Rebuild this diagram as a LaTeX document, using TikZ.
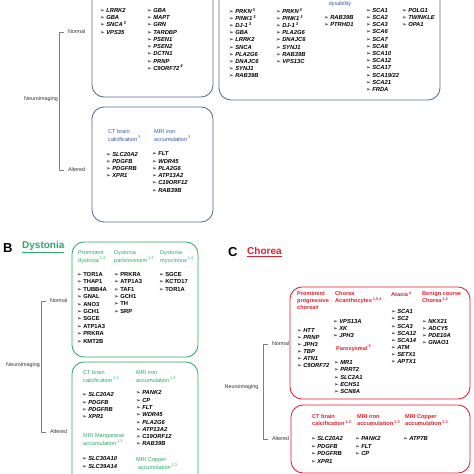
\documentclass[tikz,border=0pt]{standalone}
\usepackage{fontspec}
\setmainfont{Liberation Sans}
\newfontfamily\arrowfont{DejaVu Sans}
\usepackage{tikz}
\usetikzlibrary{positioning}

\definecolor{boxA}{RGB}{85,110,145}
\definecolor{textA}{RGB}{60,85,150}
\definecolor{dysgreen}{RGB}{45,170,105}
\definecolor{chored}{RGB}{225,30,45}

\newcommand{\genebul}{{\arrowfont\fontsize{5.6}{5.6}\selectfont ➢}\hspace{1.4pt}}
\newcommand{\gl}[1]{\genebul#1}

\tikzset{
  genes/.style={anchor=north west, inner sep=0pt, align=left,
    font=\fontsize{5.8}{#1}\selectfont\bfseries\itshape},
  genes/.default=7.25,
  genesup/.style={anchor=north west, inner sep=0pt, align=left,
    font=\fontsize{5.8}{#1}\selectfont\bfseries},
  genesup/.default=7.45,
  hdr/.style={anchor=north west, inner sep=0pt, align=left,
    font=\fontsize{5.6}{7.6}\selectfont},
  lbl/.style={inner sep=0pt, outer xsep=4pt, font=\fontsize{5.4}{6}\selectfont, text=black!80},
  neuro/.style={inner sep=1pt, fill=white, font=\fontsize{5.4}{6}\selectfont, text=black!80},
  tree/.style={draw=black!50, line width=0.6pt},
  panel/.style={inner sep=0pt, font=\fontsize{13}{13}\selectfont\bfseries},
  ptitle/.style={inner sep=0pt, font=\fontsize{10}{10}\selectfont\bfseries},
  gbox/.style={line width=0.85pt, rounded corners=12pt},
}

\begin{document}
\begin{tikzpicture}[x=1pt,y=1pt,yscale=-1,xscale=1]
\clip (0,0) rectangle (474,474);
\fill[white] (0,0) rectangle (474,474);

%%%%%%%%%%%%%%%% Panel A (cut at the top)
%Shape: Rounded Rectangle
\draw[gbox, draw=boxA] (92,-20) rectangle (213,97);
\draw[gbox, draw=boxA] (219,-20) rectangle (440,100);
\draw[gbox, draw=boxA] (92,107) rectangle (213,222);

% Text Node
\node[genes] (aN1) at (100,8.2) {\gl{LRRK2}\\\gl{GBA}\\\gl{SNCA\,\textsuperscript{3}}\\\gl{VPS35}};
\node[genes] (aN2) at (147,8.2) {\gl{GBA}\\\gl{MAPT}\\\gl{GRN}\\\gl{TARDBP}\\\gl{PSEN1}\\\gl{PSEN2}\\\gl{DCTN1}\\\gl{PRNP}\\\gl{C9ORF72\,\textsuperscript{4}}};
\node[anchor=center, inner sep=0pt, font=\fontsize{5.4}{6}\selectfont, text=textA] (aID) at (340,4) {dysability};
\node[genes=7.1] (aN3) at (229,8) {\gl{PRKN\,\textsuperscript{3}}\\\gl{PINK1\,\textsuperscript{3}}\\\gl{DJ-1\,\textsuperscript{3}}\\\gl{GBA}\\\gl{LRRK2}\\\gl{SNCA}\\\gl{PLA2G6}\\\gl{DNAJC6}\\\gl{SYNJ1}\\\gl{RAB39B}};
\node[genes=7.1] (aN4) at (276,8) {\gl{PRKN\,\textsuperscript{3}}\\\gl{PINK1\,\textsuperscript{3}}\\\gl{DJ-1\,\textsuperscript{3}}\\\gl{PLA2G6}\\\gl{DNAJC6}\\\gl{SYNJ1}\\\gl{RAB39B}\\\gl{VPS13C}};
\node[genes=7.1] (aN5) at (324,15.3) {\gl{RAB39B}\\\gl{PTRHD1}};
\node[genes=7.2] (aN6) at (366,8) {\gl{SCA1}\\\gl{SCA2}\\\gl{SCA3}\\\gl{SCA6}\\\gl{SCA7}\\\gl{SCA8}\\\gl{SCA10}\\\gl{SCA12}\\\gl{SCA17}\\\gl{SCA19/22}\\\gl{SCA21}\\\gl{FRDA}};
\node[genes=7.2] (aN7) at (402,8) {\gl{POLG1}\\\gl{TWINKLE}\\\gl{OPA1}};

\node[hdr, text=textA] (aCT) at (108,129.5) {CT brain\\calcification\,\textsuperscript{3}};
\node[hdr, text=textA] (aMRI) at (154,129.5) {MRI iron\\accumulation\,\textsuperscript{3}};
\node[genes] (aA1) at (106,151.8) {\gl{SLC20A2}\\\gl{PDGFB}\\\gl{PDGFRB}\\\gl{XPR1}};
\node[genes] (aA2) at (152,151.8) {\gl{FLT}\\\gl{WDR45}\\\gl{PLA2G6}\\\gl{ATP13A2}\\\gl{C19ORF12}\\\gl{RAB39B}};

% Tree
\node[lbl, anchor=west] (aNormal) at (64,32) {Normal};
\node[lbl, anchor=west] (aAltered) at (64,170) {Altered};
\draw[tree] (aNormal.west) -- ++(-5,0) |- (aAltered.west);
\node[neuro, anchor=east] (aNeuro) at (59,99) {Neuroimaging};

%%%%%%%%%%%%%%%% Panel B
\node[panel, anchor=west] (bLetter) at (3,248) {B};
\node[ptitle, anchor=west, text=dysgreen] (bTitle) at (22,247) {\underline{Dystonia}};

%Shape: Rounded Rectangle
\draw[gbox, draw=dysgreen] (72,242) rectangle (198,357);
\draw[gbox, draw=dysgreen] (72,362) rectangle (198,500);

\node[hdr, text=dysgreen] (bH1) at (78,250.5) {Prominent\\dystonia\,\textsuperscript{1,2}};
\node[hdr, text=dysgreen] (bH2) at (114,250.5) {Dystonia\\parkinsonism\,\textsuperscript{1,3}};
\node[hdr, text=dysgreen] (bH3) at (160,250.5) {Dystonia\\myoclonus\,\textsuperscript{1,3}};
\node[genesup] (bN1) at (77,272) {\gl{TOR1A}\\\gl{THAP1}\\\gl{TUBB4A}\\\gl{GNAL}\\\gl{ANO3}\\\gl{GCH1}\\\gl{SGCE}\\\gl{ATP1A3}\\\gl{PRKRA}\\\gl{KMT2B}};
\node[genesup] (bN2) at (114,272) {\gl{PRKRA}\\\gl{ATP1A3}\\\gl{TAF1}\\\gl{GCH1}\\\gl{TH}\\\gl{SRP}};
\node[genesup] (bN3) at (159,272) {\gl{SGCE}\\\gl{KCTD17}\\\gl{TOR1A}};

\node[hdr, text=dysgreen] (bCT) at (83,370.5) {CT brain\\calcification\,\textsuperscript{1,3}};
\node[hdr, text=dysgreen] (bMRI) at (136,370.5) {MRI iron\\accumulation\,\textsuperscript{1,3}};
\node[genes=7.3] (bA1) at (82,392.6) {\gl{SLC20A2}\\\gl{PDGFB}\\\gl{PDGFRB}\\\gl{XPR1}};
\node[genes=7.3] (bA2) at (136,390.6) {\gl{PANK2}\\\gl{CP}\\\gl{FLT}\\\gl{WDR45}\\\gl{PLA2G6}\\\gl{ATP13A2}\\\gl{C19ORF12}\\\gl{RAB39B}};
\node[hdr, text=dysgreen] (bMn) at (83,433.5) {MRI Manganese\\accumulation\,\textsuperscript{1,3}};
\node[genes=7.3] (bA3) at (82,456.6) {\gl{SLC30A10}\\\gl{SLC39A14}};
\node[hdr, text=dysgreen] (bCu) at (136,457.5) {MRI Copper\\\ accumulation\,\textsuperscript{1,3}};

% Tree
\node[lbl, anchor=west] (bNormal) at (46,301) {Normal};
\node[lbl, anchor=west] (bAltered) at (46,432) {Altered};
\draw[tree] (bNormal.west) -- ++(-5,0) |- (bAltered.west);
\node[neuro, anchor=east] (bNeuro) at (41,365) {Neuroimaging};

%%%%%%%%%%%%%%%% Panel C
\node[panel, anchor=west] (cLetter) at (228,252) {C};
\node[ptitle, anchor=west, text=chored] (cTitle) at (247,252) {\underline{Chorea}};

%Shape: Rounded Rectangle
\draw[gbox, draw=chored] (290,287) rectangle (470,399);
\draw[gbox, draw=chored] (291,405) rectangle (470,473);

\node[hdr, text=chored, font=\fontsize{5.6}{7.1}\selectfont\bfseries] (cH1) at (297,291.5) {Prominent\\progressive\\chorea\#};
\node[hdr, text=chored, font=\fontsize{5.6}{7.1}\selectfont\bfseries] (cH2) at (335,291.5) {Chorea\\Acanthocytes\,\textsuperscript{1,5,4}};
\node[hdr, text=chored, font=\fontsize{5.6}{7.1}\selectfont\bfseries] (cH3) at (391,291.5) {Ataxia\,\textsuperscript{4}};
\node[hdr, text=chored, font=\fontsize{5.6}{7.1}\selectfont\bfseries] (cH4) at (422,291.5) {Benign course\\Chorea\,\textsuperscript{1,3}};
\node[genes=6.85] (cN1) at (297,328.6) {\gl{HTT}\\\gl{PRNP}\\\gl{JPH3}\\\gl{TBP}\\\gl{ATN1}\\\gl{C9ORF72}};
\node[genes=7] (cN2) at (333,319.6) {\gl{VPS13A}\\\gl{XK}\\\gl{JPH3}};
\node[hdr, anchor=west, text=chored, font=\fontsize{5.6}{7.1}\selectfont\bfseries] (cPar) at (336,348) {Paroxysmal\,\textsuperscript{5}};
\node[genes=7.2] (cN3) at (334,360.6) {\gl{MR1}\\\gl{PRRT2}\\\gl{SLC2A1}\\\gl{ECHS1}\\\gl{SCN8A}};
\node[genes=7.1] (cN4) at (391,309.6) {\gl{SCA1}\\\gl{SC2}\\\gl{SCA3}\\\gl{SCA12}\\\gl{SCA14}\\\gl{ATM}\\\gl{SETX1}\\\gl{APTX1}};
\node[genes=7] (cN5) at (422,319.6) {\gl{NKX21}\\\gl{ADCY5}\\\gl{PDE10A}\\\gl{GNAO1}};

\node[hdr, text=chored, font=\fontsize{5.6}{7.6}\selectfont\bfseries] (cCT) at (312,414) {CT brain\\calcification\,\textsuperscript{1,3}};
\node[hdr, text=chored, font=\fontsize{5.6}{7.6}\selectfont\bfseries] (cMRI) at (357,414) {MRI iron\\accumulation\,\textsuperscript{1,3}};
\node[hdr, text=chored, font=\fontsize{5.6}{7.6}\selectfont\bfseries] (cCu) at (405,414) {MRI Copper\\accumulation\,\textsuperscript{1,3}};
\node[genes=7.4] (cA1) at (311,436.6) {\gl{SLC20A2}\\\gl{PDGFB}\\\gl{PDGFRB}\\\gl{XPR1}};
\node[genes=7.4] (cA2) at (355,436.6) {\gl{PANK2}\\\gl{FLT}\\\gl{CP}};
\node[genes=7.4] (cA3) at (403,436.6) {\gl{ATP7B}};

% Tree
\node[lbl, anchor=west] (cNormal) at (268,344) {Normal};
\node[lbl, anchor=west] (cAltered) at (268,439) {Altered};
\draw[tree] (cNormal.west) -- ++(-5,0) |- (cAltered.west);
\node[neuro, anchor=east] (cNeuro) at (259.5,387) {Neuroimaging};

\end{tikzpicture}
\end{document}
